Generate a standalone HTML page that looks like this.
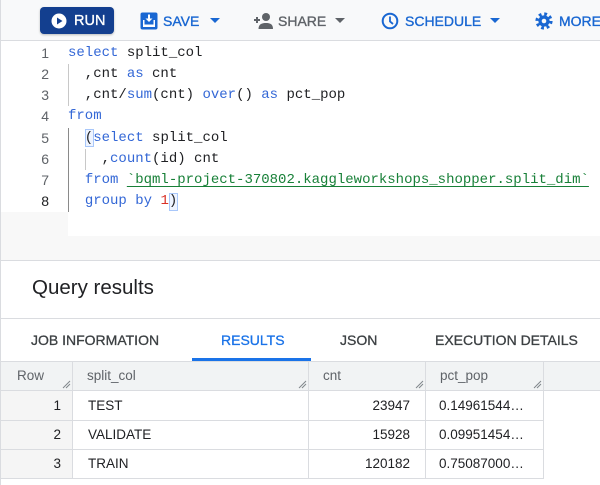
<!DOCTYPE html>
<html><head><meta charset="utf-8">
<style>
*{margin:0;padding:0;box-sizing:border-box}
html,body{width:600px;height:485px;overflow:hidden;background:#fff;font-family:"Liberation Sans",Arial,sans-serif;position:relative}
.abs{position:absolute}
.tb{left:0;top:0;width:600px;height:41px;background:#f8f9fa;border-bottom:1px solid #dadce0}
.tbt{position:absolute;top:13px;font-size:14px;line-height:16px;-webkit-text-stroke:0.35px currentColor;white-space:nowrap}
.code{position:absolute;left:68px;top:42.7px;font-family:"Liberation Mono",monospace;font-size:14px;line-height:21.2px;color:#202124;white-space:pre}
.k{color:#3367d6}
.n{color:#d93025}
.s{color:#188038;text-decoration:underline;text-decoration-color:#188038;text-underline-offset:3px}
.ln{position:absolute;left:0;width:49px;text-align:right;font-size:14px;line-height:21.2px;color:#5f6368}
.guide{position:absolute;width:1px;background:#c8c8c8}
.tab{position:absolute;top:332px;font-size:14px;line-height:16px;color:#3c4043;-webkit-text-stroke:0.3px currentColor;white-space:nowrap}
.cell{position:absolute;font-size:13.5px;line-height:16px;color:#202124;white-space:nowrap}
.hd{color:#5f6368}
.vl{position:absolute;width:1px;background:#dadce0}
.hl{position:absolute;height:1px;background:#dadce0}
</style></head><body>
<!-- left border -->
<div class="abs" style="left:0;top:0;width:1px;height:485px;background:#dadce0;z-index:5"></div>

<!-- toolbar -->
<div class="abs tb"></div>
<div class="abs" style="left:40px;top:7px;width:74px;height:27px;background:#133f8f;border-radius:4px;box-shadow:0 1px 2px rgba(0,0,0,.25)"></div>
<svg class="abs" style="left:51px;top:13px" width="16" height="16" viewBox="0 0 16 16"><circle cx="8" cy="8" r="7.5" fill="#fff"/><path d="M6 4.5 L11.5 8 L6 11.5Z" fill="#133f8f"/></svg>
<div class="tbt" style="left:74px;color:#fff;font-size:14.5px">RUN</div>

<svg class="abs" style="left:140px;top:12px" width="18" height="18" viewBox="0 0 18 18"><rect x="0.5" y="0.5" width="17" height="17" rx="2" fill="#1967d2"/><rect x="3" y="8" width="12" height="7" fill="#fff"/><rect x="4.5" y="8" width="9" height="4.5" fill="#1967d2"/><path d="M9 2.5 V9" stroke="#fff" stroke-width="2"/><path d="M5.5 6.5 L9 10 L12.5 6.5Z" fill="#fff"/></svg>
<div class="tbt" style="left:163px;color:#1967d2">SAVE</div>
<svg class="abs" style="left:210px;top:18px" width="10" height="6"><path d="M0 0 H10 L5 5Z" fill="#1967d2"/></svg>

<svg class="abs" style="left:253px;top:12px" width="20" height="18" viewBox="0 0 20 18"><path d="M1 8 H7 M4 5 V11" stroke="#5f6368" stroke-width="2"/><circle cx="13" cy="5" r="4" fill="#5f6368"/><path d="M5.5 17 C5.5 12 9 11 13 11 C17 11 20 12 20 17Z" fill="#5f6368"/></svg>
<div class="tbt" style="left:278px;color:#5f6368">SHARE</div>
<svg class="abs" style="left:335px;top:18px" width="10" height="6"><path d="M0 0 H10 L5 5Z" fill="#5f6368"/></svg>

<svg class="abs" style="left:381px;top:12px" width="18" height="18" viewBox="0 0 18 18"><circle cx="9" cy="9" r="7.3" fill="none" stroke="#1967d2" stroke-width="2"/><path d="M9 4.5 V9.5 L12 12" fill="none" stroke="#1967d2" stroke-width="1.8"/></svg>
<div class="tbt" style="left:405px;color:#1967d2">SCHEDULE</div>
<svg class="abs" style="left:490px;top:18px" width="10" height="6"><path d="M0 0 H10 L5 5Z" fill="#1967d2"/></svg>

<svg class="abs" style="left:535px;top:12px" width="18" height="18" viewBox="0 0 18 18"><circle cx="9" cy="9" r="7" fill="none" stroke="#1967d2" stroke-width="3.2" stroke-dasharray="2.75 2.75"/><circle cx="9" cy="9" r="5.6" fill="#1967d2"/><circle cx="9" cy="9" r="2.3" fill="#f8f9fa"/></svg>
<div class="tbt" style="left:559px;color:#1967d2">MORE</div>

<!-- editor -->
<div class="abs" style="left:0;top:42px;width:600px;height:218px;background:#f8f8f8"></div>
<div class="abs" style="left:0;top:42px;width:68px;height:170px;background:#fff"></div>
<div class="abs" style="left:68px;top:42px;width:532px;height:194px;background:#fff"></div>

<div class="ln" style="top:42.7px">1</div>
<div class="ln" style="top:63.9px">2</div>
<div class="ln" style="top:85.1px">3</div>
<div class="ln" style="top:106.3px">4</div>
<div class="ln" style="top:127.5px">5</div>
<div class="ln" style="top:148.7px">6</div>
<div class="ln" style="top:169.9px">7</div>
<div class="ln" style="top:191.1px;color:#202124">8</div>

<div class="guide" style="left:68px;top:64px;height:42px"></div>
<div class="guide" style="left:68px;top:127.5px;height:84.8px;background:#8a8a8a"></div>
<div class="guide" style="left:85px;top:148.7px;height:21.2px"></div>

<!-- bracket highlights -->
<div class="abs" style="left:85px;top:129px;width:9px;height:18px;border:1px solid #a8c7fa;background:#eef4ff"></div>
<div class="abs" style="left:169px;top:192.6px;width:9px;height:18px;border:1px solid #a8c7fa;background:#eef4ff"></div>

<div class="code"><span class="k">select</span> split_col
  ,cnt <span class="k">as</span> cnt
  ,cnt/<span class="k">sum</span>(cnt) <span class="k">over</span>() <span class="k">as</span> pct_pop
<span class="k">from</span>
  (<span class="k">select</span> split_col
    ,<span class="k">count</span>(id) cnt
  <span class="k">from</span> <span class="s">`bqml-project-370802.kaggleworkshops_shopper.split_dim`</span>
  <span class="k">group</span> <span class="k">by</span> <span class="n">1</span>)</div>

<!-- query results -->
<div class="hl" style="left:0;top:260px;width:600px"></div>
<div class="abs" style="left:0;top:261px;width:600px;height:57px;background:#fff"></div>
<div class="abs" style="left:32px;top:276px;font-size:20.5px;line-height:24px;color:#202124">Query results</div>
<div class="hl" style="left:0;top:318px;width:600px"></div>

<!-- tabs -->
<div class="tab" style="left:31px">JOB INFORMATION</div>
<div class="tab" style="left:221px;color:#1a73e8">RESULTS</div>
<div class="tab" style="left:340px">JSON</div>
<div class="tab" style="left:435px">EXECUTION DETAILS</div>
<div class="abs" style="left:192px;top:358px;width:119px;height:3px;background:#1a73e8"></div>

<!-- table -->
<div class="abs" style="left:0;top:361px;width:600px;height:30px;background:#f1f3f4;border-top:1px solid #dadce0;border-bottom:1px solid #dadce0"></div>
<div class="abs" style="left:0;top:391px;width:72px;height:88px;background:#f5f5f5"></div>
<div class="vl" style="left:72px;top:362px;height:117px"></div>
<div class="vl" style="left:308px;top:362px;height:117px"></div>
<div class="vl" style="left:425px;top:362px;height:117px"></div>
<div class="vl" style="left:543px;top:362px;height:117px"></div>
<div class="hl" style="left:0;top:420px;width:543px"></div>
<div class="hl" style="left:0;top:449px;width:543px"></div>
<div class="hl" style="left:0;top:478px;width:543px"></div>

<!-- resize handles -->
<svg class="abs" style="left:62px;top:380px" width="9" height="9"><path d="M1 8 L8 1 M4 8 L8 4" stroke="#80868b" stroke-width="1"/></svg>
<svg class="abs" style="left:298px;top:380px" width="9" height="9"><path d="M1 8 L8 1 M4 8 L8 4" stroke="#80868b" stroke-width="1"/></svg>
<svg class="abs" style="left:415px;top:380px" width="9" height="9"><path d="M1 8 L8 1 M4 8 L8 4" stroke="#80868b" stroke-width="1"/></svg>
<svg class="abs" style="left:533px;top:380px" width="9" height="9"><path d="M1 8 L8 1 M4 8 L8 4" stroke="#80868b" stroke-width="1"/></svg>

<div class="cell hd" style="left:17px;top:368px">Row</div>
<div class="cell hd" style="left:87px;top:368px">split_col</div>
<div class="cell hd" style="left:323px;top:368px">cnt</div>
<div class="cell hd" style="left:440px;top:368px">pct_pop</div>

<div class="cell" style="left:0;width:61px;text-align:right;top:398px">1</div>
<div class="cell" style="left:88px;top:398px">TEST</div>
<div class="cell" style="left:308px;width:102px;text-align:right;top:398px">23947</div>
<div class="cell" style="left:439px;top:398px">0.14961544…</div>

<div class="cell" style="left:0;width:61px;text-align:right;top:427px">2</div>
<div class="cell" style="left:88px;top:427px">VALIDATE</div>
<div class="cell" style="left:308px;width:102px;text-align:right;top:427px">15928</div>
<div class="cell" style="left:439px;top:427px">0.09951454…</div>

<div class="cell" style="left:0;width:61px;text-align:right;top:456px">3</div>
<div class="cell" style="left:88px;top:456px">TRAIN</div>
<div class="cell" style="left:308px;width:102px;text-align:right;top:456px">120182</div>
<div class="cell" style="left:439px;top:456px">0.75087000…</div>
</body></html>
